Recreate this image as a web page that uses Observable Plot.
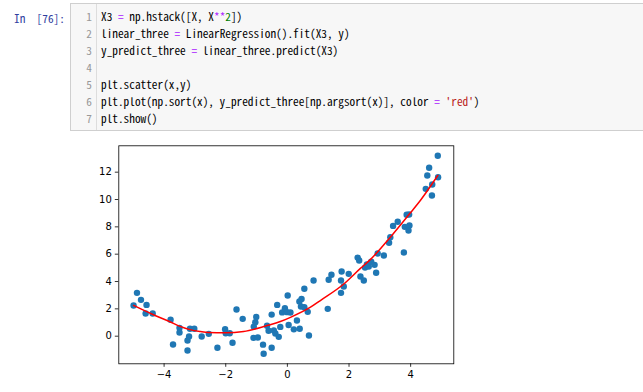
<!DOCTYPE html>
<html>
<head>
<meta charset="utf-8">
<script src="https://cdn.jsdelivr.net/npm/d3@7"></script>
<script src="https://cdn.jsdelivr.net/npm/@observablehq/plot@0.6"></script>
<style>
  html, body { margin: 0; padding: 0; background: #fff; width: 643px; height: 392px; overflow: hidden; }
  #page { position: relative; width: 643px; height: 392px; }
  .mono { font-family: "Noto Sans Mono CJK SC", "Liberation Mono", monospace; font-size: 11.3px; white-space: pre; }
  #prompt { position: absolute; left: 14px; top: 10px; color: #303F9F; line-height: 17px; }
  #cell { position: absolute; left: 70px; top: 3px; width: 600px; height: 128px; background: #f7f7f7; border: 1px solid #cfcfcf; box-sizing: border-box; }
  #gutter { position: absolute; left: 96px; top: 4px; width: 1px; height: 126px; background: #dddddd; }
  .num-line { position: absolute; left: 70px; width: 22px; text-align: right; color: #999; line-height: 17px; }
  .code-line { position: absolute; left: 101px; color: #000; line-height: 17px; }
  .op { color: #AA22FF; }
  .nm { color: #008000; }
  .str { color: #BA2121; }
  #chart { position: absolute; left: 0; top: 140px; }
</style>
</head>
<body>
<div id="page">
  <div id="prompt" class="mono"><span>In</span><span>&nbsp;&nbsp;[76]:</span></div>
  <div id="cell"></div>
  <div id="gutter"></div>
  <div class="num-line mono" style="top:8px">1</div>
  <div class="num-line mono" style="top:25px">2</div>
  <div class="num-line mono" style="top:42px">3</div>
  <div class="num-line mono" style="top:59px">4</div>
  <div class="num-line mono" style="top:76px">5</div>
  <div class="num-line mono" style="top:93px">6</div>
  <div class="num-line mono" style="top:110px">7</div>
  <div class="code-line mono" style="top:8px"><span>X3 </span><span class="op">=</span><span> np.hstack([X, X</span><span class="op">**</span><span class="nm">2</span><span>])</span></div>
  <div class="code-line mono" style="top:25px"><span>linear_three </span><span class="op">=</span><span> LinearRegression().fit(X3, y)</span></div>
  <div class="code-line mono" style="top:42px"><span>y_predict_three </span><span class="op">=</span><span> linear_three.predict(X3)</span></div>
  <div class="code-line mono" style="top:76px"><span>plt.scatter(x,y)</span></div>
  <div class="code-line mono" style="top:93px"><span>plt.plot(np.sort(x), y_predict_three[np.argsort(x)], color </span><span class="op">=</span><span> </span><span class="str">'red'</span><span>)</span></div>
  <div class="code-line mono" style="top:110px"><span>plt.show()</span></div>
  <div id="chart"></div>
</div>
<script>
// scatter data
const xs = [-4.99, -4.88, -4.75, -4.57, -4.60, -4.37, -3.79, -3.71, -3.50, -3.50, -3.24, -3.24, -3.19, -3.16, -3.02, -2.78, -2.55, -2.27, -2.02, -2.00, -1.87, -1.78, -1.65, -1.45,
  -1.10, -1.09, -1.04, -1.01, -0.96, -0.79, -0.77, -0.66, -0.61, -0.51, -0.51, -0.44, -0.39, -0.33, -0.28, -0.23, -0.17, -0.08, -0.01, 0.01, 0.04, 0.10, 0.21, 0.31, 0.40, 0.39, 0.46, 0.44, 0.55, 0.55, 0.66, 0.70, 0.85,
  1.31, 1.34, 1.43, 1.74, 1.76, 1.74, 1.83, 1.99, 2.28, 2.33, 2.37, 2.48, 2.52, 2.58, 2.64, 2.72, 2.83, 2.88, 2.93, 3.13, 3.30, 3.34, 3.43, 3.58, 3.78, 3.81, 3.87, 3.93, 3.95, 3.96, 4.49, 4.54, 4.60, 4.70, 4.69, 4.88, 4.89];
const ys = [2.25, 3.17, 2.66, 2.29, 1.66, 1.66, 1.20, -0.61, 0.61, 0.27, -1.05, -0.31, -0.02, 0.54, 0.54, -0.02, 0.17, -0.85, 0.51, 0.22, 0.22, -0.48, 1.95, 1.27,
  -0.12, 0.70, 1.02, 1.40, -0.10, -0.62, -1.29, 0.76, 0.40, 1.58, -0.85, 0.42, 0.20, 2.29, -0.05, 0.68, 1.74, 2.05, 1.76, 2.98, 0.82, 1.73, 0.50, 1.15, 0.54, 2.54, 2.73, 2.17, 3.47, 2.12, 1.78, 0.05, 4.07,
  2.00, 4.13, 4.49, 4.07, 4.73, 3.17, 3.64, 4.56, 5.75, 5.54, 4.37, 4.07, 5.02, 5.24, 5.10, 5.45, 5.22, 4.64, 6.05, 5.90, 6.84, 7.24, 8.07, 8.37, 6.12, 8.00, 8.88, 7.73, 8.90, 8.10, 10.78, 11.76, 12.32, 11.10, 10.29, 13.20, 11.63];

// fitted (red) curve
const lineX = [-4.99, -4.40, -3.81, -3.48, -3.16, -2.82, -2.56, -2.01, -1.42, -0.66, -0.23, 0.10, 0.75, 1.07, 1.83, 2.37, 2.69, 3.34, 4.00, 4.32, 4.88];
const lineY = [2.25, 1.62, 1.06, 0.72, 0.48, 0.34, 0.27, 0.25, 0.34, 0.78, 1.07, 1.38, 2.12, 2.61, 3.82, 4.96, 5.60, 7.24, 9.05, 9.95, 11.76];

const xTicks = [-4, -2, 0, 2, 4];
const yTicks = [0, 2, 4, 6, 8, 10, 12];

const pts = xs.map((x, i) => ({x, y: ys[i]}));
const fit = lineX.map((x, i) => ({x, y: lineY[i]}));
const fmt = d => d < 0 ? "\u2212" + Math.abs(d) : String(d);

const chart = Plot.plot({
  width: 643,
  height: 252,
  marginLeft: 118.3,
  marginRight: 189.7,
  marginTop: 5.3,
  marginBottom: 28.7,
  style: {fontFamily: "DejaVu Sans", fontSize: "10px", color: "#000", background: "transparent", overflow: "visible"},
  x: {domain: [-5.47, 5.40]},
  y: {domain: [-2.02, 13.93]},
  marks: [
    Plot.axisX({ticks: xTicks, tickFormat: fmt, tickSize: 3.5, tickPadding: 3.5, strokeWidth: 0.8, label: null, fontSize: 10}),
    Plot.axisY({ticks: yTicks, tickFormat: fmt, tickSize: 3.5, tickPadding: 3.5, strokeWidth: 0.8, label: null, fontSize: 10}),
    Plot.dot(pts, {x: "x", y: "y", r: 3.2, fill: "#1f77b4"}),
    Plot.line(fit, {x: "x", y: "y", stroke: "red", strokeWidth: 1.5, curve: "monotone-x"}),
    Plot.frame({stroke: "#000", strokeWidth: 0.8})
  ]
});
document.getElementById("chart").appendChild(chart);
</script>
</body>
</html>
